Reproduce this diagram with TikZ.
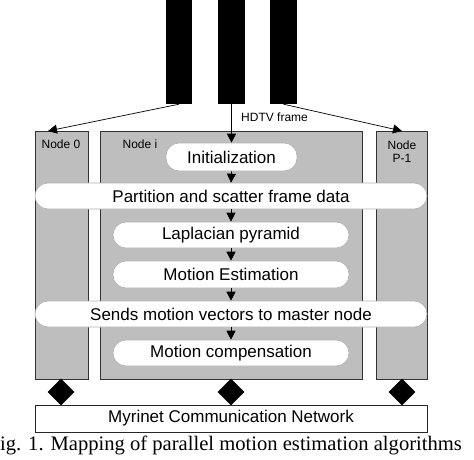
\documentclass[tikz,border=0pt]{standalone}
\usepackage{fontspec}
\setmainfont{Liberation Sans}
\newfontfamily\capfont{Liberation Serif}
\usetikzlibrary{shapes.geometric,arrows.meta}
\definecolor{boxgray}{RGB}{190,190,190}
\begin{document}
\begin{tikzpicture}[x=1pt,y=-1pt,
  bar/.style={fill=black, draw=none, minimum width=26.5pt, minimum height=104pt, inner sep=0pt},
  procbox/.style={draw=black!80, line width=0.8pt, fill=boxgray, minimum height=248pt, inner sep=0pt},
  pill/.style={draw=gray!60, line width=0.6pt, fill=white, rounded corners=13pt, minimum height=26pt, inner sep=0pt, font=\fontsize{17}{19}\selectfont},
  lbl/.style={font=\fontsize{12}{13.5}\selectfont, align=center, inner sep=0pt},
  dia/.style={diamond, fill=black, draw=none, minimum width=27pt, minimum height=27pt, inner sep=0pt},
  arr/.style={draw=black, line width=0.7pt, -{Triangle[width=9pt,length=9pt]}},
  netbox/.style={draw=black!85, line width=0.8pt, fill=white, minimum width=392pt, minimum height=27pt, inner sep=0pt, font=\fontsize{17}{19}\selectfont}
]
\useasboundingbox (0,0) rectangle (474,460);
\clip (0,0) rectangle (474,460);

% frame bars
\node[bar] (bar1) at (179,52) {};
\node[bar] (bar2) at (231.5,52) {};
\node[bar] (bar3) at (283.5,52) {};

% processor boxes
\node[procbox, minimum width=53pt] (node0) at (61.5,255) {};
\node[procbox, minimum width=262pt] (nodei) at (231,255) {};
\node[procbox, minimum width=51pt] (nodep) at (401.5,255) {};

\node[lbl] (l0) at (61,144) {Node 0};
\node[lbl] (li) at (140,144) {Node i};
\node[lbl] (lp) at (402,151.5) {Node\\P-1};

% pills
\node[pill, minimum width=131pt, minimum height=28pt] (init) at (231.5,157) {Initialization};
\node[pill, minimum width=392pt] (part) at (231,196) {Partition and scatter frame data};
\node[pill, minimum width=236pt] (lap) at (231,235) {Laplacian pyramid};
\node[pill, minimum width=236pt, minimum height=27pt] (me) at (231,274.5) {Motion Estimation};
\node[pill, minimum width=392pt] (send) at (231,314) {Sends motion vectors to master node};
\node[pill, minimum width=236pt] (mc) at (231,353) {Motion compensation};

% arrows from frame
\coordinate (t0) at (48,131);
\coordinate (tp) at (402,131);
\draw[arr] (bar1.south) -- (t0);
\draw[arr] (bar2.south) -- (init.north);
\draw[arr] (bar3.south) -- (tp);
\node[lbl, anchor=west] (hdtv) at (241,117) {HDTV frame};

% flow arrows
\draw[arr] (init.south) -- (part.north);
\draw[arr] (part.south) -- (lap.north);
\draw[arr] (lap.south) -- (me.north);
\draw[arr] (me.south) -- (send.north);
\draw[arr] (send.south) -- (mc.north);

% network
\node[dia] (d0) at (61,392) {};
\node[dia] (di) at (231,392) {};
\node[dia] (dp) at (402,392) {};
\node[netbox] (net) at (231,418.5) {Myrinet Communication Network};

% caption
\node[anchor=base west, inner sep=0pt, font=\capfont\fontsize{20.6}{22}\selectfont] (cap) at (0,450) {ig. 1. Mapping of parallel motion estimation algorithms};
\end{tikzpicture}
\end{document}
